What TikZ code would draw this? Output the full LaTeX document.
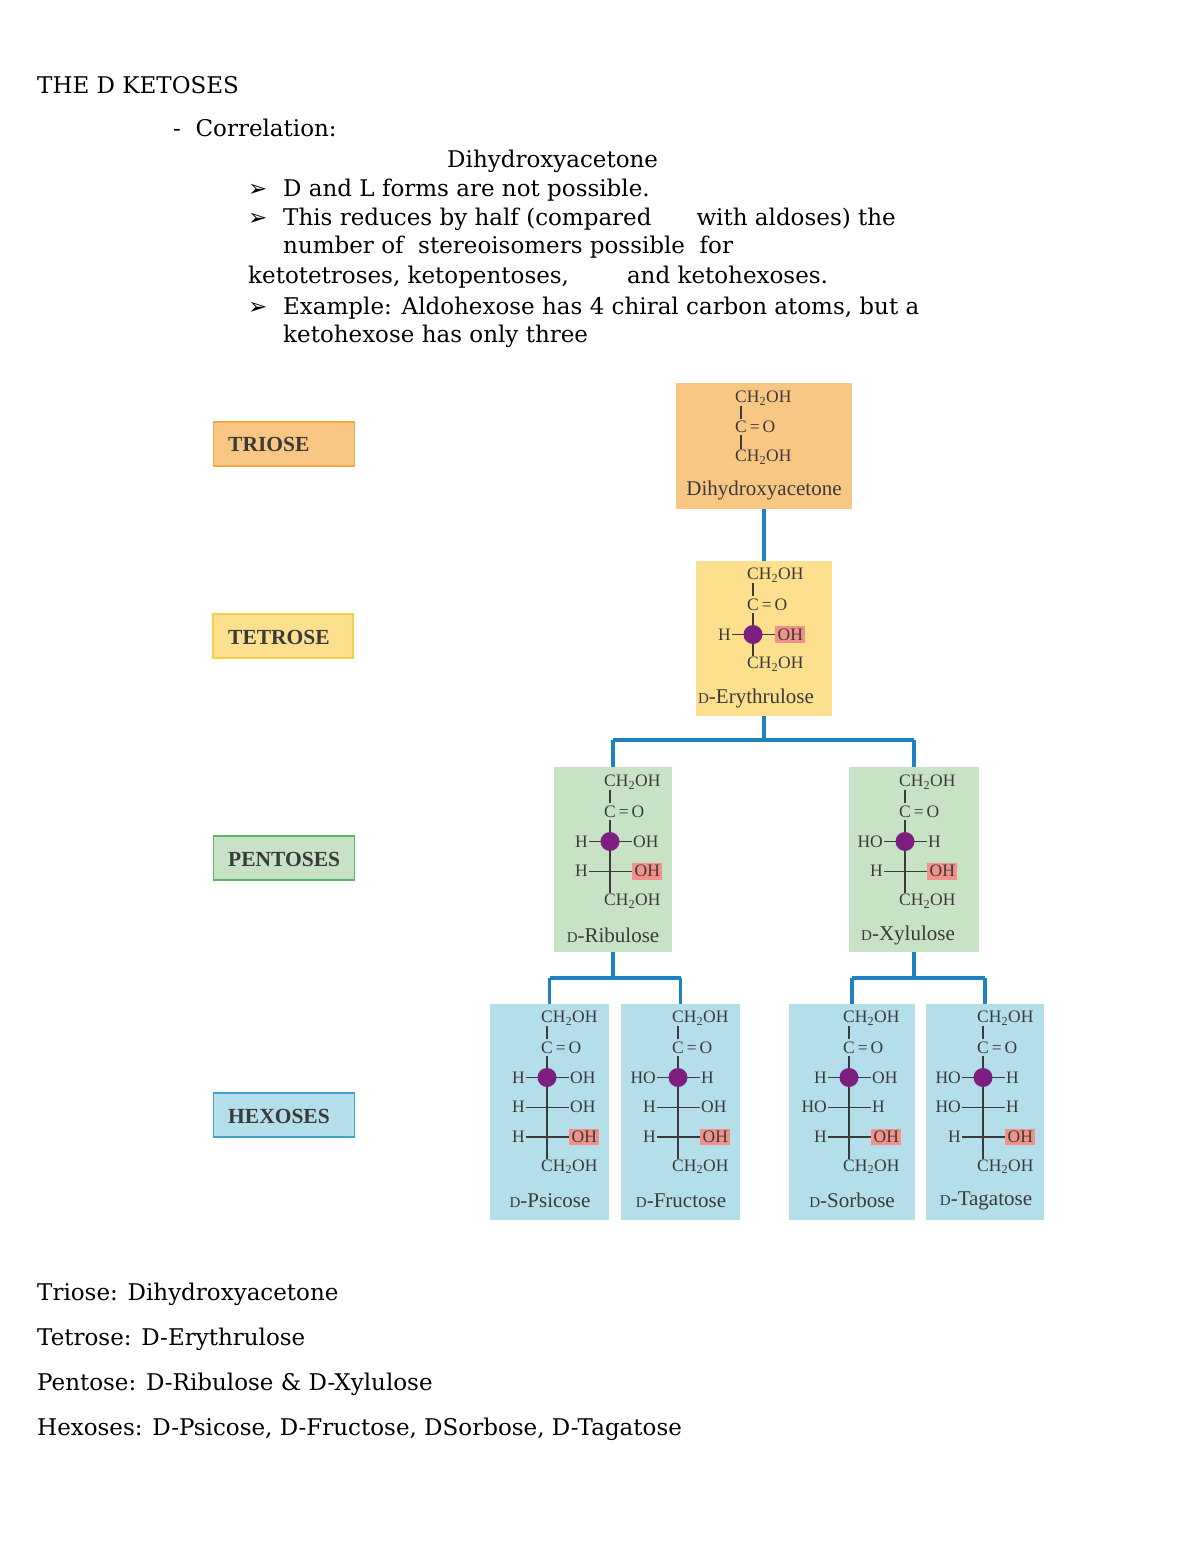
\documentclass[tikz,border=0pt]{standalone}
\usepackage{fontspec}
\setmainfont{DejaVu Serif}
\newfontfamily\dg{Liberation Serif}
\newfontfamily\bulf{DejaVu Sans}
\definecolor{cTri}{HTML}{F9C784}
\definecolor{cTriB}{HTML}{F2A948}
\definecolor{cTet}{HTML}{FDE08D}
\definecolor{cTetB}{HTML}{F7CF45}
\definecolor{cPen}{HTML}{C8E2C5}
\definecolor{cPenB}{HTML}{5DB46B}
\definecolor{cHex}{HTML}{B3DEEA}
\definecolor{cHexB}{HTML}{3CA5CF}
\definecolor{cLine}{HTML}{1B82C3}
\definecolor{cDot}{HTML}{7E1F7F}
\definecolor{cHl}{HTML}{F2908A}
\definecolor{cTx}{HTML}{3A3A3A}
\tikzset{
  body/.style={anchor=base west,inner sep=0pt,font=\fontsize{23}{26}\selectfont},
  ft/.style={inner sep=1pt,font=\dg\fontsize{17.5}{19}\selectfont,text=cTx},
  lab/.style={inner sep=0pt,font=\dg\fontsize{21}{23}\selectfont,text=cTx},
  bond/.style={line width=1.4pt,cTx},
  panel/.style={draw=none,inner sep=0pt},
  tag/.style={line width=1.5pt,inner sep=0pt,minimum width=140pt,minimum height=44pt},
  tagt/.style={anchor=west,inner sep=0pt,font=\dg\bfseries\fontsize{21.5}{23}\selectfont,text=cTx},
  conn/.style={cLine,line width=3.5pt},
}
\newcommand\fischer[5]{% cx, y0, n, rows, label
  \pgfmathsetmacro\yb{#2+29.75*(#3+2)}
  \node[ft,anchor=west] at ({#1-7},#2) {CH\textsubscript{2}OH};
  \draw[bond] (#1,#2+8) -- (#1,#2+21);
  \node[ft,anchor=west] at ({#1-7},#2+29.75) {C\,=\,O};
  \draw[bond] (#1,#2+38) -- (#1,\yb-8);
  \foreach \l/\r/\d/\h [count=\k] in {#4} {
    \pgfmathsetmacro\yy{#2+29.75*(\k+1)}
    \draw[bond] ({#1-21},\yy) -- ({#1+22},\yy);
    \node[ft,anchor=east] at ({#1-21},\yy) {\l};
    \ifnum\h=1
      \node[ft,anchor=west,fill=cHl,inner sep=2.5pt] at ({#1+22},\yy) {\r};
    \else
      \node[ft,anchor=west] at ({#1+22},\yy) {\r};
    \fi
    \ifnum\d=1 \fill[cDot] (#1,\yy) circle (9.5); \fi
  }
  \node[ft,anchor=west] at ({#1-7},\yb) {CH\textsubscript{2}OH};
  \node[lab] at (#1+3,\yb+34) {#5};
}
\newcommand\Dd{{\fontsize{15}{16}\selectfont D}}
\begin{document}
\begin{tikzpicture}[x=1pt,y=-1pt]
\useasboundingbox (0,0) rectangle (1200,1553);
% text
\node[body] (t1) at (37,93) {THE D KETOSES};
\node[body] (t2) at (173,136) {-\ \ Correlation:};
\node[body] (t3) at (447,167) {Dihydroxyacetone};
\node[body] (b1) at (248,196) {{\bulf ➢}};
\node[body] (t4) at (283,196) {D and L forms are not possible.};
\node[body] (b2) at (248,225) {{\bulf ➢}};
\node[body] (t5) at (283,225) {This reduces by half (compared\hspace{45pt}with aldoses) the};
\node[body] (t6) at (283,253) {number of\ \ stereoisomers possible\ \ for};
\node[body] (t7) at (248,283) {ketotetroses, ketopentoses,\hspace{58pt}and ketohexoses.};
\node[body] (b3) at (248,314) {{\bulf ➢}};
\node[body] (t8) at (283,314) {Example: Aldohexose has 4 chiral carbon atoms, but a};
\node[body] (t9) at (283,342) {ketohexose has only three};
\node[body] (s1) at (37,1300) {Triose: Dihydroxyacetone};
\node[body] (s2) at (37,1345) {Tetrose: D-Erythrulose};
\node[body] (s3) at (37,1390) {Pentose: D-Ribulose \& D-Xylulose};
\node[body] (s4) at (37,1435) {Hexoses: D-Psicose, D-Fructose, DSorbose, D-Tagatose};
% tags
\node[tag,fill=cTri,draw=cTriB,minimum width=141pt] (gTri) at (284,444) {};
\node[tagt] (gTriT) at (228,444) {TRIOSE};
\node[tag,fill=cTet,draw=cTetB] (gTet) at (283,636) {};
\node[tagt] (gTetT) at (228,637) {TETROSE};
\node[tag,fill=cPen,draw=cPenB,minimum width=141pt] (gPen) at (284,858) {};
\node[tagt] (gPenT) at (228,859) {PENTOSES};
\node[tag,fill=cHex,draw=cHexB,minimum width=141pt] (gHex) at (284,1115) {};
\node[tagt] (gHexT) at (228,1116) {HEXOSES};
% panels
\node[panel,fill=cTri,minimum width=176pt,minimum height=126pt] (tri) at (764,446) {};
\node[panel,fill=cTet,minimum width=136pt,minimum height=155pt] (tet) at (764,638.5) {};
\node[panel,fill=cPen,minimum width=118pt,minimum height=185pt] (rib) at (613,859.5) {};
\node[panel,fill=cPen,minimum width=130pt,minimum height=185pt] (xyl) at (914,859.5) {};
\node[panel,fill=cHex,minimum width=119pt,minimum height=216pt] (psi) at (549.5,1112) {};
\node[panel,fill=cHex,minimum width=119pt,minimum height=216pt] (fru) at (680.5,1112) {};
\node[panel,fill=cHex,minimum width=126pt,minimum height=216pt] (sor) at (852,1112) {};
\node[panel,fill=cHex,minimum width=118pt,minimum height=216pt] (tag) at (985,1112) {};
% connectors
\draw[conn] (tri.south) -- (tet.north);
\draw[conn] (tet.south) -- ++(0,24) coordinate (j1);
\draw[conn] (j1 -| rib.north) -- (j1 -| xyl.north);
\draw[conn] (j1 -| rib.north) -- (rib.north);
\draw[conn] (j1 -| xyl.north) -- (xyl.north);
\draw[conn] (rib.south) -- ++(0,26) coordinate (j2);
\draw[conn] (j2 -| psi.north) -- (j2 -| fru.north);
\draw[conn] (j2 -| psi.north) -- (psi.north);
\draw[conn] (j2 -| fru.north) -- (fru.north);
\draw[conn] (xyl.south) -- ++(0,26) coordinate (j3);
\draw[conn] (j3 -| sor.north) -- (j3 -| tag.north);
\draw[conn] (j3 -| sor.north) -- (sor.north);
\draw[conn] (j3 -| tag.north) -- (tag.north);
% structures
\node[ft,anchor=west] at (734,398) {CH\textsubscript{2}OH};
\draw[bond] (741,406) -- (741,419);
\node[ft,anchor=west] at (734,427) {C\,=\,O};
\draw[bond] (741,435) -- (741,449);
\node[ft,anchor=west] at (734,457) {CH\textsubscript{2}OH};
\node[lab] at (764,490) {Dihydroxyacetone};
\fischer{753}{575}{1}{H/OH/1/1}{\Dd-Erythrulose}
\fischer{610}{782}{2}{H/OH/1/0,H/OH/0/1}{\Dd-Ribulose}
\fischer{905}{782}{2}{HO/H/1/0,H/OH/0/1}{\Dd-Xylulose}
\fischer{547}{1018}{3}{H/OH/1/0,H/OH/0/0,H/OH/0/1}{\Dd-Psicose}
\fischer{678}{1018}{3}{HO/H/1/0,H/OH/0/0,H/OH/0/1}{\Dd-Fructose}
\fischer{849}{1018}{3}{H/OH/1/0,HO/H/0/0,H/OH/0/1}{\Dd-Sorbose}
\fischer{983}{1018}{3}{HO/H/1/0,HO/H/0/0,H/OH/0/1}{\Dd-Tagatose}
\end{tikzpicture}
\end{document}
